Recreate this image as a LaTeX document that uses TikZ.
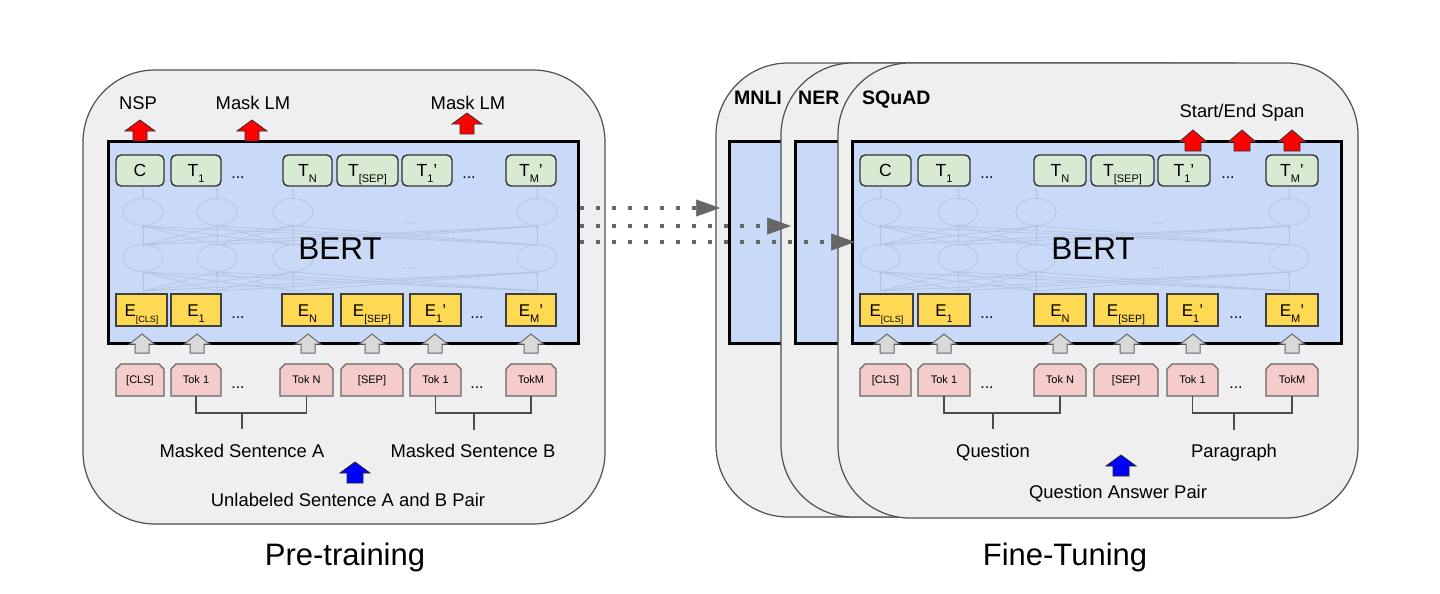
\documentclass[tikz,border=0pt]{standalone}
\usepackage{fontspec}
\setmainfont{Liberation Sans}
\usetikzlibrary{arrows.meta,calc}
\definecolor{panelfill}{HTML}{EFEFEF}
\definecolor{panelline}{HTML}{505050}
\definecolor{bertfill}{HTML}{C9DAF8}
\definecolor{tfill}{HTML}{D9EAD3}
\definecolor{efill}{HTML}{FFD954}
\definecolor{tokfill}{HTML}{F4CCCC}
\definecolor{grayarr}{HTML}{D9D9D9}
\definecolor{dotgray}{HTML}{666666}
\definecolor{innerc}{HTML}{B2C2DE}
\newcommand\sub[2][11]{\raisebox{-6pt}{\fontsize{#1}{#1}\selectfont #2}}
\newcommand\bup[7]{\draw[#1] (#2-#4,#3) -- (#2+#4,#3) -- (#2+#4,#3-#5) -- (#2+#6,#3-#5) -- (#2,#3-#5-#7) -- (#2-#6,#3-#5) -- (#2-#4,#3-#5) -- cycle;}
\newcommand\tok[4]{%
  \draw[tokshape] (#2-#3/2,396) -- (#2-#3/2,369) -- (#2-#3/2+5,364) -- (#2+#3/2-5,364) -- (#2+#3/2,369) -- (#2+#3/2,396) -- cycle;
  \node[toktext, minimum width=#3pt] (#1) at (#2,380) {#4};}
\newcommand\bertinner[5]{%
  \foreach \a in {#1,#2,#3,#4}{
    \draw[innerl] (\a,212) ellipse [x radius=20pt, y radius=13.5pt];
    \draw[innerl] (\a,258) ellipse [x radius=20pt, y radius=13.5pt];
    \draw[innera] (\a,198) -- (\a,188);
    \draw[innera] (\a,244) -- (\a,226);
    \draw[innera] (\a,291) -- (\a,272);
    \foreach \b in {#1,#2,#3,#4}{
      \draw[innerl] (\a,245) -- (\b,226);
      \draw[innerl] (\a,291) -- (\b,272);
    }
  }
  \node[dots, text=innerc] at (#5,224) {...};
  \node[dots, text=innerc] at (#5,269) {...};
}
\begin{document}
\begin{tikzpicture}[x=1pt,y=-1pt,
  panel/.style={draw=panelline, line width=1.2pt, fill=panelfill, rounded corners=72pt},
  bertbox/.style={draw=black, line width=3pt, fill=bertfill, minimum height=202pt, inner sep=0pt},
  tbox/.style={draw=black!80, line width=1.4pt, fill=tfill, rounded corners=5pt, minimum height=31pt, inner sep=0pt, text height=12.5pt, text depth=0pt, font=\fontsize{17.5}{20}\selectfont},
  ebox/.style={draw=black!75, line width=1.2pt, fill=efill, minimum height=32pt, inner sep=0pt, text height=12.2pt, text depth=0pt, font=\fontsize{17}{20}\selectfont},
  tokshape/.style={draw=black!60, line width=1.2pt, fill=tokfill},
  toktext/.style={inner sep=0pt, minimum height=32pt, text height=7.9pt, text depth=0pt, font=\fontsize{11}{12}\selectfont},
  dots/.style={anchor=base, inner sep=0pt, font=\fontsize{16}{18}\selectfont},
  lbl/.style={anchor=base, inner sep=0pt, font=\fontsize{18.4}{22}\selectfont},
  title/.style={anchor=base, inner sep=0pt, font=\fontsize{31}{36}\selectfont},
  bertlbl/.style={anchor=base, inner sep=0pt, font=\fontsize{31.5}{36}\selectfont},
  tasklbl/.style={anchor=base west, inner sep=0pt, font=\bfseries\fontsize{19.5}{22}\selectfont},
  innerl/.style={draw=innerc, line width=0.7pt},
  innera/.style={innerl, -{Stealth[length=3pt,width=3pt]}},
  redarr/.style={fill=red, draw=black!80, line width=0.8pt},
  grayblk/.style={fill=grayarr, draw=black!60, line width=1pt},
  bluearr/.style={fill=blue, draw=black!85, line width=0.8pt},
  dotarr/.style={draw=dotgray, line width=4pt, dash pattern=on 4pt off 12pt, -{Triangle[length=24pt,width=17pt,line width=0.5pt]}},
  brk/.style={draw=black!70, line width=1.1pt}
]
\useasboundingbox (0,0) rectangle (1440,594);
\fill[white] (0,0) rectangle (1440,594);

% ================= Pre-training =================
\draw[panel] (83,70) rectangle (605,524);
\node[bertbox, minimum width=470pt] (bertL) at (343,242) {};
\bertinner{143}{217}{293}{537}{410}
\node[bertlbl] (bertLt) at (340,259) {BERT};

\node[tbox, minimum width=48pt] (LtC) at (140,170.5) {C};
\node[tbox, minimum width=50pt] (LtA1) at (196,170.5) {T\sub{1}};
\node[tbox, minimum width=49pt] (LtAN) at (307.5,170.5) {T\sub{N}};
\node[tbox, minimum width=61pt] (LtSEP) at (367.5,170.5) {T\sub{[SEP]}};
\node[tbox, minimum width=50pt] (LtB1) at (427,170.5) {T\sub{1}'};
\node[tbox, minimum width=50pt] (LtBM) at (531,170.5) {T\sub{M}'};
\node[dots] at (238,178) {...};
\node[dots] at (469,178) {...};

\node[ebox, minimum width=51pt] (LeC) at (141.5,310) {E\sub[9]{[CLS]}};
\node[ebox, minimum width=50pt] (LeA1) at (196,310) {E\sub{1}};
\node[ebox, minimum width=51pt] (LeAN) at (307.5,310) {E\sub{N}};
\node[ebox, minimum width=62pt] (LeSEP) at (372,310) {E\sub[10.5]{[SEP]}};
\node[ebox, minimum width=51pt] (LeB1) at (435.5,310) {E\sub{1}'};
\node[ebox, minimum width=50pt] (LeBM) at (531,310) {E\sub{M}'};
\node[dots] at (238,318) {...};
\node[dots] at (477,318) {...};

\tok{LkC}{140}{48}{[CLS]}
\tok{LkA1}{196}{50}{Tok 1}
\tok{LkAN}{306.5}{53}{Tok N}
\tok{LkSEP}{372}{62}{[SEP]}
\tok{LkB1}{435.5}{51}{Tok 1}
\tok{LkBM}{531}{50}{TokM}
\node[dots] at (238,388) {...};
\node[dots] at (477,388) {...};

\foreach \x in {142,197,308,372,435,531}{\bup{grayblk}{\x}{353}{7}{9}{12.5}{10}}

\coordinate (brLA) at (242,413);
\coordinate (brLB) at (474,413);
\draw[brk] (LkA1.south) |- (brLA) -| (LkAN.south);
\draw[brk] (brLA) -- ++(0,16);
\draw[brk] (LkB1.south) |- (brLB) -| (LkBM.south);
\draw[brk] (brLB) -- ++(0,17);

\bup{redarr}{140}{141}{7}{10}{15}{11}
\bup{redarr}{252}{141}{7}{10}{15}{11}
\bup{redarr}{467}{134}{7}{10}{15}{11}
\node[lbl] (nsp) at (138,109) {NSP};
\node[lbl] (mlm1) at (253,109) {Mask LM};
\node[lbl] (mlm2) at (468,109) {Mask LM};

\node[lbl] (msa) at (242,457) {Masked Sentence A};
\node[lbl] (msb) at (473,457.5) {Masked Sentence B};
\bup{bluearr}{355}{483}{8}{10}{15}{11}
\node[lbl] (unl) at (348,506) {Unlabeled Sentence A and B Pair};
\node[title] (pre) at (345,565) {Pre-training};

% ================= Fine-tuning =================
\draw[panel] (716,63) rectangle (1236,517);
\node[bertbox, minimum width=489pt] (bertM) at (973.5,242) {};
\node[tasklbl] (mnli) at (734,104) {MNLI};

\draw[panel] (781,63) rectangle (1301,517);
\node[bertbox, minimum width=489pt] (bertN) at (1039.5,242) {};
\node[tasklbl] (ner) at (798,104) {NER};

\draw[panel] (838,63) rectangle (1358,518);
\node[bertbox, minimum width=489pt] (bertS) at (1096.5,242) {};
\bertinner{880}{958}{1036}{1289}{1158}
\node[bertlbl] (bertSt) at (1093,259) {BERT};
\node[tasklbl] (squad) at (862,104) {SQuAD};

\node[tbox, minimum width=51pt] (RtC) at (885.5,170.5) {C};
\node[tbox, minimum width=52pt] (RtA1) at (944,170.5) {T\sub{1}};
\node[tbox, minimum width=52pt] (RtAN) at (1060,170.5) {T\sub{N}};
\node[tbox, minimum width=63pt] (RtSEP) at (1122.5,170.5) {T\sub{[SEP]}};
\node[tbox, minimum width=52pt] (RtB1) at (1184,170.5) {T\sub{1}'};
\node[tbox, minimum width=52pt] (RtBM) at (1292,170.5) {T\sub{M}'};
\node[dots] at (987,178) {...};
\node[dots] at (1228,178) {...};

\node[ebox, minimum width=53pt] (ReC) at (886.5,310) {E\sub[9]{[CLS]}};
\node[ebox, minimum width=52pt] (ReA1) at (944,310) {E\sub{1}};
\node[ebox, minimum width=52pt] (ReAN) at (1060,310) {E\sub{N}};
\node[ebox, minimum width=64pt] (ReSEP) at (1126,310) {E\sub[10.5]{[SEP]}};
\node[ebox, minimum width=51pt] (ReB1) at (1192.5,310) {E\sub{1}'};
\node[ebox, minimum width=52pt] (ReBM) at (1292,310) {E\sub{M}'};
\node[dots] at (987,318) {...};
\node[dots] at (1236,318) {...};

\tok{RkC}{885.5}{51}{[CLS]}
\tok{RkA1}{944}{52}{Tok 1}
\tok{RkAN}{1060}{52}{Tok N}
\tok{RkSEP}{1126}{64}{[SEP]}
\tok{RkB1}{1192.5}{51}{Tok 1}
\tok{RkBM}{1292}{52}{TokM}
\node[dots] at (987,388) {...};
\node[dots] at (1236,388) {...};

\foreach \x in {887,944,1060,1127,1193,1292}{\bup{grayblk}{\x}{353}{7}{9}{12.5}{10}}

\coordinate (brRA) at (993,413);
\coordinate (brRB) at (1234,413);
\draw[brk] (RkA1.south) |- (brRA) -| (RkAN.south);
\draw[brk] (brRA) -- ++(0,16);
\draw[brk] (RkB1.south) |- (brRB) -| (RkBM.south);
\draw[brk] (brRB) -- ++(0,17);

\foreach \x in {1193,1242,1292}{\bup{redarr}{\x}{151}{8}{9}{14}{12}}
\node[lbl] (span) at (1242,117) {Start/End Span};

\node[lbl] (ques) at (993,457) {Question};
\node[lbl] (para) at (1234,457) {Paragraph};
\bup{bluearr}{1121}{476}{8}{10}{15}{11}
\node[lbl] (qap) at (1118,498) {Question Answer Pair};
\node[title] (fine) at (1065,565) {Fine-Tuning};

% ================= dotted transfer arrows =================
\coordinate (d1) at (720,208);
\coordinate (d2) at (791,226);
\coordinate (d3) at (855,242);
\draw[dotarr] (bertL.east |- d1) -- (d1);
\draw[dotarr] (bertL.east |- d2) -- (d2);
\draw[dotarr] (bertL.east |- d3) -- (d3);
\end{tikzpicture}
\end{document}
